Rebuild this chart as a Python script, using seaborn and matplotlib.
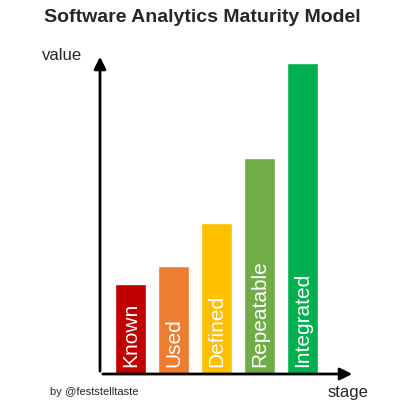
import matplotlib
matplotlib.use("Agg")
import matplotlib.pyplot as plt
import seaborn as sns
import pandas as pd

stages = ["Known", "Used", "Defined", "Repeatable", "Integrated"]
values = [90, 108, 151, 216, 311]
colors = ["#C00000", "#ED7D31", "#FFC000", "#70AD47", "#00B050"]

sns.set_style("white")
plt.rcParams['font.family'] = ['Liberation Sans', 'DejaVu Sans']

df = pd.DataFrame({"stage": stages, "value": values})
fig = plt.figure(figsize=(4.04, 4.06), dpi=100)
ax = fig.add_axes([100/404, 31/406, 255/404, 320/406])
sns.barplot(data=df, x="stage", y="value", hue="stage", palette=colors,
            legend=False, width=0.72, ax=ax, saturation=1)
ax.set_xlim(-0.71, 5.22)
ax.set_ylim(0, 320)
for s in ax.spines.values():
    s.set_visible(False)
ax.set_xticks([]); ax.set_yticks([])
ax.set_xlabel(""); ax.set_ylabel("")
for i, (s, v) in enumerate(zip(stages, values)):
    ax.text(i, 8, s, rotation=90, color="white", ha="center", va="bottom", fontsize=15)
ax.annotate("", xy=(0, 1.0), xytext=(0, 0), xycoords="axes fraction",
            arrowprops=dict(arrowstyle="-|>", color="black", lw=2, mutation_scale=18))
ax.annotate("", xy=(1.0, 0), xytext=(0, 0), xycoords="axes fraction",
            arrowprops=dict(arrowstyle="-|>", color="black", lw=2, mutation_scale=18))
fig.text(0.5, 1 - 18/406, "Software Analytics Maturity Model", ha="center", va="center",
         fontsize=14, fontweight="bold")
fig.text(42/404, 1 - 55/406, "value", ha="left", va="center", fontsize=12)
fig.text(368/404, 1 - 393/406, "stage", ha="right", va="center", fontsize=12)
fig.text(50/404, 1 - 392/406, "by @feststelltaste", ha="left", va="center", fontsize=8)
fig.savefig("out.png", dpi=100)
